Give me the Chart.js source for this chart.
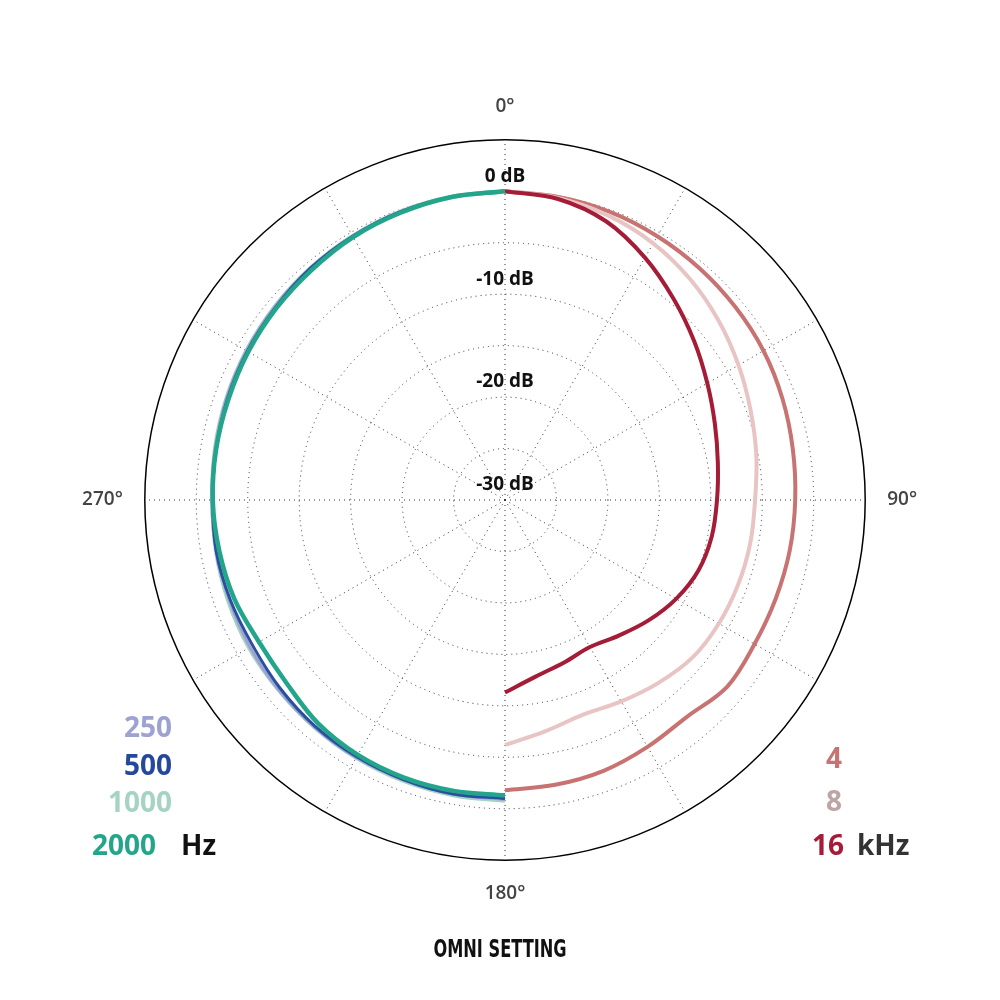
<!DOCTYPE html>
<html><head><meta charset="utf-8">
<script src="https://cdn.jsdelivr.net/npm/chart.js@4"></script>
<style>html,body{margin:0;padding:0;background:#fff}#wrap{width:1000px;height:1000px}</style>
</head><body><div id="wrap"><canvas id="c"></canvas></div>
<script>
const angles = Array.from({length:36},(_,i)=>i*10);
// right half 0..180 deg (step 10)
const k16 = [0,-0.3,-1.2,-2.8,-4.5,-6.0,-7.3,-8.3,-9.0,-9.4,-9.6,-10.0,-10.8,-11.8,-12.8,-13.5,-13.2,-12.6,-11.3];
const k8  = [0,-0.2,-0.6,-1.2,-2.0,-2.9,-3.8,-4.6,-5.2,-5.7,-5.8,-5.9,-6.0,-6.2,-6.8,-7.4,-7.8,-7.2,-6.2];
const k4  = [0,-0.1,-0.2,-0.4,-0.6,-0.8,-1.0,-1.3,-1.6,-1.8,-1.9,-2.0,-2.0,-1.8,-2.5,-2.3,-2.0,-1.9,-1.8];
// left half 180..360 deg (step 10)
const h2000 = [-1.3,-1.3,-1.3,-1.4,-1.7,-2.3,-2.4,-2.0,-1.8,-1.6,-1.5,-1.4,-1.2,-1.0,-0.8,-0.5,-0.3,-0.1,0];
const h1000 = [-0.8,-0.9,-1.0,-1.1,-1.2,-1.3,-1.3,-1.4,-1.5,-1.6,-1.4,-1.2,-1.0,-0.8,-0.6,-0.4,-0.2,-0.1,0];
const h500  = [-1.0,-1.0,-1.1,-1.2,-1.3,-1.5,-1.7,-1.6,-1.5,-1.6,-1.5,-1.3,-1.1,-0.9,-0.6,-0.4,-0.2,-0.1,0];
const h250  = [-0.9,-1.0,-1.1,-1.1,-1.2,-1.3,-1.4,-1.5,-1.5,-1.5,-1.4,-1.2,-1.0,-0.8,-0.6,-0.4,-0.2,-0.1,0];
const dbTicks = [0,-10,-20,-30];

function right(a){const r=Array(36).fill(null);a.forEach((v,i)=>{if(i<18)r[i]=v;});r[18]=a[18];return r;}
function left(a){const r=Array(36).fill(null);for(let i=0;i<18;i++)r[18+i]=a[i];r[0]=a[18];return r;}
function ds(data,color,w){return {data,borderColor:color,borderWidth:w,pointRadius:0,fill:false,tension:0.35,spanGaps:false};}

const overlay = {
  id:'overlay',
  afterDraw(chart){
    const ctx=chart.ctx, s=chart.scales.r;
    ctx.save();
    ctx.font='bold 19px "Open Sans"';ctx.fillStyle='#111';ctx.textAlign='center';ctx.textBaseline='middle';
    dbTicks.forEach(v=>{const d=s.getDistanceFromCenterForValue(v);ctx.fillText(v+' dB',s.xCenter,s.yCenter-d-15);});
    ctx.font='bold 28px "Open Sans"';ctx.textBaseline='alphabetic';ctx.textAlign='left';
    const L=[['250','#9ea2d2',737],['500','#26489c',775],['1000','#a6d3c4',812]];
    L.forEach(([t,c,y])=>{ctx.fillStyle=c;ctx.fillText(t,172-ctx.measureText(t).width,y);});
    ctx.fillStyle='#22a58a';ctx.fillText('2000',92,855);ctx.fillStyle='#111';ctx.fillText('Hz',181,855);
    ctx.fillStyle='#c87272';ctx.fillText('4',826,768);
    ctx.fillStyle='#bda5a5';ctx.fillText('8',826,811);
    ctx.fillStyle='#a51c36';ctx.fillText('16',812,855);ctx.fillStyle='#333';ctx.fillText('kHz',857,855);
    ctx.font='bold 24px "DejaVu Sans Condensed"';ctx.fillStyle='#111';ctx.textAlign='center';
    ctx.save();ctx.translate(500,957);ctx.scale(0.75,1);ctx.fillText('OMNI SETTING',0,0);ctx.restore();
    ctx.restore();
  }
};

new Chart(document.getElementById('c'),{
  type:'radar',
  data:{labels:angles,datasets:[
    ds(left(h2000),'#22a58a',4.5),
    ds(left(h500),'#2a4fa0',3),
    ds(left(h250),'#9ea2d2',3),
    ds(left(h1000),'#a6d3c4',4.5),
    ds(right(k16),'#a51c36',4),
    ds(right(k8),'#e9c4c4',4),
    ds(right(k4),'#c87272',4)
  ]},
  options:{
    responsive:true,maintainAspectRatio:false,animation:false,
    layout:{padding:{top:95,bottom:95,left:77,right:77}},
    plugins:{legend:{display:false},tooltip:{enabled:false}},
    scales:{r:{
      min:-30,max:5,
      ticks:{stepSize:5,display:false},
      grid:{circular:true,color:c=>c.tick&&c.tick.value===5?'#000':'#333',lineWidth:c=>c.tick&&c.tick.value===5?1.5:1},
      border:{dash:c=>c.tick&&c.tick.value===5?[]:[1,4]},
      angleLines:{color:c=>c.index%3===0?'#333':'rgba(0,0,0,0)',borderDash:[1,4]},
      pointLabels:{callback:(l,i)=>l%90===0?l+'°':'',font:{size:19,weight:'600',family:'"Open Sans"'},color:'#444',padding:22}
    }}
  },
  plugins:[overlay]
});
</script></body></html>
